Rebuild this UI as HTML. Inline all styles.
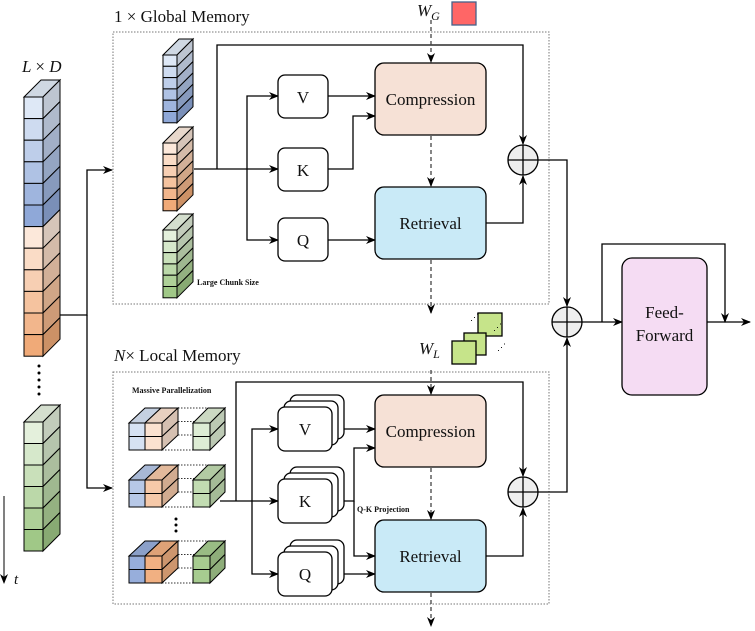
<!DOCTYPE html>
<html><head><meta charset="utf-8"><style>
html,body{margin:0;padding:0;background:#fff;}
svg{display:block;}
svg text{font-family:"Liberation Serif","Times New Roman",serif;}
</style></head><body>
<svg id="s" width="755" height="631" viewBox="0 0 755 631" xmlns="http://www.w3.org/2000/svg" font-family="Liberation Serif, serif">
<defs>
<marker id="a" markerWidth="10" markerHeight="8" refX="9" refY="4" orient="auto" markerUnits="userSpaceOnUse"><path d="M0,0 L10,4 L0,8 L3,4 z" fill="#000"/></marker>
</defs>
<g id="cubes"></g>
<g fill="none" stroke="#000" stroke-width="1.3">
<rect x="113" y="32" width="436" height="272" stroke="#777" stroke-dasharray="1.5,1.5" stroke-width="1"/>
<rect x="113" y="372" width="436" height="232" stroke="#777" stroke-dasharray="1.5,1.5" stroke-width="1"/>
<path d="M60,315 H87 V170 H112" marker-end="url(#a)"/>
<path d="M87,315 V488 H112" marker-end="url(#a)"/>
<path d="M4,496 V583" stroke-width="1" marker-end="url(#a)"/>
<path d="M194,169 H278" marker-end="url(#a)"/>
<path d="M217,169 V45 H523 V144" marker-end="url(#a)"/>
<path d="M247,169 V96 H278" marker-end="url(#a)"/>
<path d="M247,169 V240 H278" marker-end="url(#a)"/>
<path d="M328,96 H375" marker-end="url(#a)"/>
<path d="M328,169 H353 V116 H375" marker-end="url(#a)"/>
<path d="M328,240 H375" marker-end="url(#a)"/>
<path d="M486,223 H523 V176" marker-end="url(#a)"/>
<path d="M538,160 H567 V306" marker-end="url(#a)"/>
<path d="M220,501 H278" marker-end="url(#a)"/>
<path d="M236,501 V382 H523 V476" marker-end="url(#a)"/>
<path d="M252,501 V429 H278" marker-end="url(#a)"/>
<path d="M252,501 V574 H278" marker-end="url(#a)"/>
<path d="M344,429 H375" marker-end="url(#a)"/>
<path d="M344,501 H354 V448 H375" marker-end="url(#a)"/>
<path d="M354,501 V556 H375" marker-end="url(#a)"/>
<path d="M344,574 H375" marker-end="url(#a)"/>
<path d="M486,556 H523 V508" marker-end="url(#a)"/>
<path d="M538,492 H567 V338" marker-end="url(#a)"/>
<path d="M582,322 H622" marker-end="url(#a)"/>
<path d="M602,322 V244 H725 V322" marker-end="url(#a)"/>
<path d="M707,322 H750" marker-end="url(#a)"/>
<g stroke-dasharray="4,3" stroke="#444">
<path d="M431,20 V62" marker-end="url(#a)"/>
<path d="M431,136 V186" marker-end="url(#a)"/>
<path d="M431,260 V313" marker-end="url(#a)"/>
<path d="M431,370 V394" marker-end="url(#a)"/>
<path d="M431,468 V519" marker-end="url(#a)"/>
<path d="M431,593 V626" marker-end="url(#a)"/>
</g>
</g>
<g stroke="#000" stroke-width="1.3">
<rect x="375" y="63" width="111" height="72" rx="9" fill="#f6e1d6"/>
<rect x="375" y="187" width="111" height="72" rx="9" fill="#c9eaf7"/>
<rect x="375" y="395" width="111" height="72" rx="9" fill="#f6e1d6"/>
<rect x="375" y="520" width="111" height="72" rx="9" fill="#c9eaf7"/>
<rect x="622" y="258" width="85" height="137" rx="10" fill="#f5dcf3"/>
<rect x="278" y="75" width="50" height="43" rx="7" fill="#fff"/>
<rect x="278" y="148" width="50" height="43" rx="7" fill="#fff"/>
<rect x="278" y="218" width="50" height="43" rx="7" fill="#fff"/>
<g fill="#fff">
<rect x="290" y="395" width="54" height="44" rx="7"/><rect x="284" y="401" width="54" height="44" rx="7"/><rect x="278" y="407" width="54" height="44" rx="7"/>
<rect x="290" y="467" width="54" height="44" rx="7"/><rect x="284" y="473" width="54" height="44" rx="7"/><rect x="278" y="479" width="54" height="44" rx="7"/>
<rect x="290" y="540" width="54" height="44" rx="7"/><rect x="284" y="546" width="54" height="44" rx="7"/><rect x="278" y="552" width="54" height="44" rx="7"/>
</g>
<g fill="#eee">
<circle cx="523" cy="160" r="15"/><circle cx="523" cy="492" r="15"/><circle cx="567" cy="322" r="15"/>
</g>
<path d="M508,160 H538 M523,145 V175 M508,492 H538 M523,477 V507 M552,322 H582 M567,307 V337" fill="none"/>
<rect x="452" y="2" width="24" height="23" fill="#ff6666" stroke="#44628a"/>
<rect x="478" y="313" width="24" height="23" fill="#c6e48a"/>
<rect x="464" y="333" width="22" height="22" fill="#c6e48a"/>
<rect x="452" y="341" width="24" height="23" fill="#c6e48a"/>
</g>
<g fill="#000" font-size="9">
<text x="470" y="320">⋰</text><text x="493" y="330">⋰</text><text x="497" y="350">⋰</text>
</g>
<g fill="#000">
<circle cx="39" cy="366" r="1.5"/><circle cx="39" cy="373" r="1.5"/><circle cx="39" cy="380" r="1.5"/><circle cx="39" cy="387" r="1.5"/><circle cx="39" cy="394" r="1.5"/>
<circle cx="176" cy="519" r="1.5"/><circle cx="176" cy="525" r="1.5"/><circle cx="176" cy="531" r="1.5"/>
</g>
<g fill="#111" font-size="17" font-family="Liberation Serif, serif">
<text x="114" y="22">1 × Global Memory</text>
<text x="114" y="361"><tspan font-style="italic">N</tspan>× Local Memory</text>
<text x="22" y="72" font-style="italic">L <tspan font-style="normal">×</tspan> D</text>
<text x="14" y="584" font-style="italic" font-size="15">t</text>
<text x="417" y="16" font-style="italic">W<tspan font-size="12" dy="4">G</tspan></text>
<text x="419" y="354" font-style="italic">W<tspan font-size="12" dy="4">L</tspan></text>
<text x="430.5" y="105" text-anchor="middle">Compression</text>
<text x="430.5" y="229" text-anchor="middle">Retrieval</text>
<text x="430.5" y="437" text-anchor="middle">Compression</text>
<text x="430.5" y="562" text-anchor="middle">Retrieval</text>
<text x="303" y="103" text-anchor="middle">V</text>
<text x="303" y="176" text-anchor="middle">K</text>
<text x="303" y="246" text-anchor="middle">Q</text>
<text x="305" y="435" text-anchor="middle">V</text>
<text x="305" y="507" text-anchor="middle">K</text>
<text x="305" y="580" text-anchor="middle">Q</text>
<text x="664.5" y="318" text-anchor="middle">Feed-</text>
<text x="664.5" y="341" text-anchor="middle">Forward</text>
</g>
<g fill="#111" font-size="8" font-weight="bold" font-family="Liberation Serif, serif">
<text x="197" y="285">Large Chunk Size</text>
<text x="132" y="393">Massive Parallelization</text>
<text x="357" y="512">Q-K Projection</text>
</g>
</svg>
<script>
var g=document.getElementById('cubes'),NS='http://www.w3.org/2000/svg';
function el(t,a){var e=document.createElementNS(NS,t);for(var k in a)e.setAttribute(k,a[k]);g.appendChild(e);return e;}
function rgb(c){return 'rgb('+c.map(Math.round).join(',')+')';}
function lt(c,t){return [c[0]+(255-c[0])*t,c[1]+(255-c[1])*t,c[2]+(255-c[2])*t];}
function dk(c,f){return [c[0]*f,c[1]*f,c[2]*f];}
function poly(p,f){el('polygon',{points:p.join(' '),fill:f,stroke:'#000','stroke-width':1});}
function col(x,y,w,d,h,cells){
 var n=cells.length;
 poly([x,y,x+d,y-d,x+w+d,y-d,x+w,y],rgb(dk(lt(cells[0],0.1),0.92)));
 for(var i=0;i<n;i++){var yy=y+i*h,c=cells[i];
  el('rect',{x:x,y:yy,width:w,height:h,fill:rgb(c),stroke:'#000','stroke-width':1});
  poly([x+w,yy,x+w+d,yy-d,x+w+d,yy-d+h,x+w,yy+h],rgb(dk(c,0.85)));
 }
}
function lerp(a,b,t){return [a[0]+(b[0]-a[0])*t,a[1]+(b[1]-a[1])*t,a[2]+(b[2]-a[2])*t];}
function grad(a,b,n){var r=[];for(var i=0;i<n;i++)r.push(lerp(a,b,n>1?i/(n-1):0));return r;}
var B1=[222,232,246],B2=[143,168,216],O1=[252,232,218],O2=[240,170,120],G1=[228,240,220],G2=[160,200,135];
col(24,97,19,17,21.6,grad(B1,B2,6).concat(grad(O1,O2,6)));
col(24,422,19,17,21.5,grad(G1,G2,6));
col(163,55,14,16,11.3,grad(B1,B2,6));
col(163,143,14,16,11.3,grad(O1,O2,6));
col(163,230,14,16,11.3,grad(G1,G2,6));
[[423,0.1],[480,0.5],[556,0.9]].forEach(function(r){var y=r[0],t=r[1];
 var b=lerp(B1,B2,t),o=lerp(O1,O2,t),gr=lerp(G1,G2,t);
 [[178,y-15,208],[178,y-1.5,208],[178,y+12,208],[162,y+27,193]].forEach(function(l){el('line',{x1:l[0],y1:l[1],x2:l[2],y2:l[1],stroke:'#333','stroke-width':1,'stroke-dasharray':'1.5,1.5'});});
 poly([129,y,145,y-15,161,y-15,145,y],rgb(dk(b,0.92)));
 poly([145,y,161,y-15,178,y-15,162,y],rgb(dk(o,0.92)));
 for(var i=0;i<2;i++){var yy=y+i*13.5;
  el('rect',{x:129,y:yy,width:16,height:13.5,fill:rgb(b),stroke:'#000','stroke-width':1});
  el('rect',{x:145,y:yy,width:17,height:13.5,fill:rgb(o),stroke:'#000','stroke-width':1});
  poly([162,yy,178,yy-15,178,yy-1.5,162,yy+13.5],rgb(dk(o,0.85)));
  el('rect',{x:193,y:yy,width:17,height:13.5,fill:rgb(gr),stroke:'#000','stroke-width':1});
  poly([210,yy,225,yy-15,225,yy-1.5,210,yy+13.5],rgb(dk(gr,0.85)));
 }
 poly([193,y,208,y-15,225,y-15,210,y],rgb(dk(gr,0.92)));
});
</script>
</body></html>
